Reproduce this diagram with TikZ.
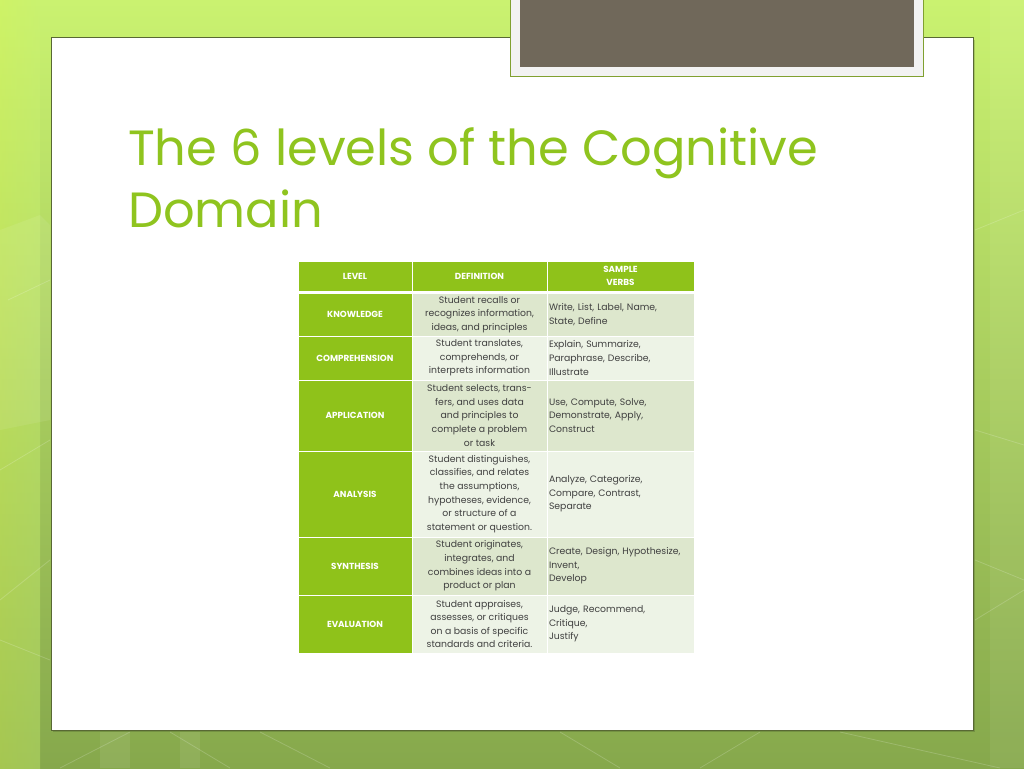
\documentclass[tikz,border=0pt]{standalone}
\usepackage{fontspec}
\newfontfamily\gothic{Poppins}
\definecolor{bgtop}{RGB}{202,242,112}
\definecolor{bgbot}{RGB}{134,168,76}
\definecolor{framec}{RGB}{88,104,52}
\definecolor{titlec}{RGB}{143,196,31}
\definecolor{hdr}{RGB}{143,194,26}
\definecolor{rowd}{RGB}{221,231,205}
\definecolor{rowl}{RGB}{237,243,230}
\definecolor{txt}{RGB}{64,64,64}
\definecolor{taupe}{RGB}{112,104,90}
\definecolor{boxedge}{RGB}{128,160,48}
\tikzset{
  cellbase/.style={draw=white, line width=1pt, inner sep=0pt, anchor=center},
  hcell/.style={cellbase, fill=hdr, text=white, font=\gothic\bfseries\fontsize{8.8}{13.5}\selectfont, align=center},
  dcell/.style={cellbase, text=txt, font=\gothic\fontsize{9.3}{13.6}\selectfont, align=center},
  vcell/.style={cellbase, text=txt, font=\gothic\fontsize{9.3}{13.6}\selectfont, align=left, inner xsep=2pt},
  faint/.style={white, opacity=0.18, line width=0.8pt}
}
% \tcell{name}{x1}{y1}{x2}{y2}{style}{text}
\newcommand\tcell[7]{%
  \pgfmathsetmacro\cw{#4-#2}\pgfmathsetmacro\ch{#5-#3}%
  \node[#6, minimum width=\cw pt, minimum height=\ch pt] (#1) at ({(#2+#4)/2},{(#3+#5)/2}) {#7};}
\newcommand\vtcell[7]{%
  \pgfmathsetmacro\cw{#4-#2}\pgfmathsetmacro\ch{#5-#3}\pgfmathsetmacro\tw{#4-#2-4}%
  \node[#6, minimum width=\cw pt, minimum height=\ch pt, text width=\tw pt] (#1) at ({(#2+#4)/2},{(#3+#5)/2}) {#7};}
\begin{document}
\begin{tikzpicture}[x=1pt,y=-1pt]
\useasboundingbox (0,0) rectangle (1024,768);
% background
\shade[top color=bgtop, bottom color=bgbot] (0,0) rectangle (1024,768);
\shade[left color=bgtop!80!yellow, right color=bgtop, opacity=0.4] (0,0) rectangle (40,768);
% faint geometric lines
\draw[faint] (0,600) -- (50,560);
\draw[faint] (0,470) -- (50,440);
\draw[faint] (8,300) -- (50,280);
\draw[faint] (0,640) -- (50,660);
\draw[faint] (60,768) -- (130,732);
\draw[faint] (230,768) -- (170,732);
\draw[faint] (260,732) -- (330,768);
\draw[faint] (560,732) -- (620,768);
\draw[faint] (700,768) -- (760,732);
\draw[faint] (840,732) -- (1000,768);
\draw[faint] (975,230) -- (1024,210);
\draw[faint] (975,430) -- (1024,445);
\draw[faint] (975,560) -- (1024,580);
\draw[faint] (975,620) -- (1024,590);
\fill[white, opacity=0.08] (0,230) -- (40,215) -- (50,225) -- (50,420) -- (0,430) -- cycle;
\fill[white, opacity=0.08] (100,732) rectangle (130,768);
\fill[white, opacity=0.08] (180,732) rectangle (200,768);
\fill[white, opacity=0.06] (990,0) rectangle (1024,768);
% frame
\fill[black, opacity=0.15] (53,40) rectangle (975,732);
\node[draw=framec, fill=white, line width=1pt, inner sep=0pt, minimum width=922pt, minimum height=692pt] (frame) at (512,384) {};
% top right box
\node[draw=boxedge, fill=white!95!black, line width=1pt, inner sep=0pt, minimum width=413pt, minimum height=78pt] (tabbox) at (716.5,37.5) {};
\node[fill=taupe, inner sep=0pt, minimum width=394pt, minimum height=68pt] (tabinner) at (717,33) {};
% title
\node[anchor=base west, inner sep=0pt, text=titlec, font=\gothic\fontsize{49.5}{62}\selectfont] (title1) at (128,165) {The 6 levels of the Cognitive};
\node[anchor=base west, inner sep=0pt, text=titlec, font=\gothic\fontsize{49.5}{62}\selectfont] (title2) at (128,227) {Domain};
% table header
\tcell{h1}{298}{261}{412}{291}{hcell}{LEVEL}
\tcell{h2}{412}{261}{547}{291}{hcell}{DEFINITION}
\tcell{h3}{547}{261}{694}{291}{hcell}{SAMPLE\\VERBS}
% rows
\tcell{k1}{298}{293}{412}{336}{hcell}{KNOWLEDGE}
\tcell{k2}{412}{293}{547}{336}{dcell, fill=rowd}{Student recalls or\\recognizes information,\\ideas, and principles}
\vtcell{k3}{547}{293}{694}{336}{vcell, fill=rowd}{Write, List, Label, Name,\\State, Define}
\tcell{c1}{298}{336}{412}{380}{hcell}{COMPREHENSION}
\tcell{c2}{412}{336}{547}{380}{dcell, fill=rowl}{Student translates,\\comprehends, or\\interprets information}
\vtcell{c3}{547}{336}{694}{380}{vcell, fill=rowl}{Explain, Summarize,\\Paraphrase, Describe,\\Illustrate}
\tcell{a1}{298}{380}{412}{451}{hcell}{APPLICATION}
\tcell{a2}{412}{380}{547}{451}{dcell, fill=rowd}{Student selects, trans-\\fers, and uses data\\and principles to\\complete a problem\\or task}
\vtcell{a3}{547}{380}{694}{451}{vcell, fill=rowd}{Use, Compute, Solve,\\Demonstrate, Apply,\\Construct}
\tcell{n1}{298}{451}{412}{537}{hcell}{ANALYSIS}
\tcell{n2}{412}{451}{547}{537}{dcell, fill=rowl}{Student distinguishes,\\classifies, and relates\\the assumptions,\\hypotheses, evidence,\\or structure of a\\statement or question.}
\vtcell{n3}{547}{451}{694}{537}{vcell, fill=rowl}{Analyze, Categorize,\\Compare, Contrast,\\Separate}
\tcell{s1}{298}{537}{412}{595}{hcell}{SYNTHESIS}
\tcell{s2}{412}{537}{547}{595}{dcell, fill=rowd}{Student originates,\\integrates, and\\combines ideas into a\\product or plan}
\vtcell{s3}{547}{537}{694}{595}{vcell, fill=rowd}{Create, Design, Hypothesize,\\Invent,\\Develop}
\tcell{e1}{298}{595}{412}{653}{hcell}{EVALUATION}
\tcell{e2}{412}{595}{547}{653}{dcell, fill=rowl}{Student appraises,\\assesses, or critiques\\on a basis of specific\\standards and criteria.}
\vtcell{e3}{547}{595}{694}{653}{vcell, fill=rowl}{Judge, Recommend,\\Critique,\\Justify}
\end{tikzpicture}
\end{document}
